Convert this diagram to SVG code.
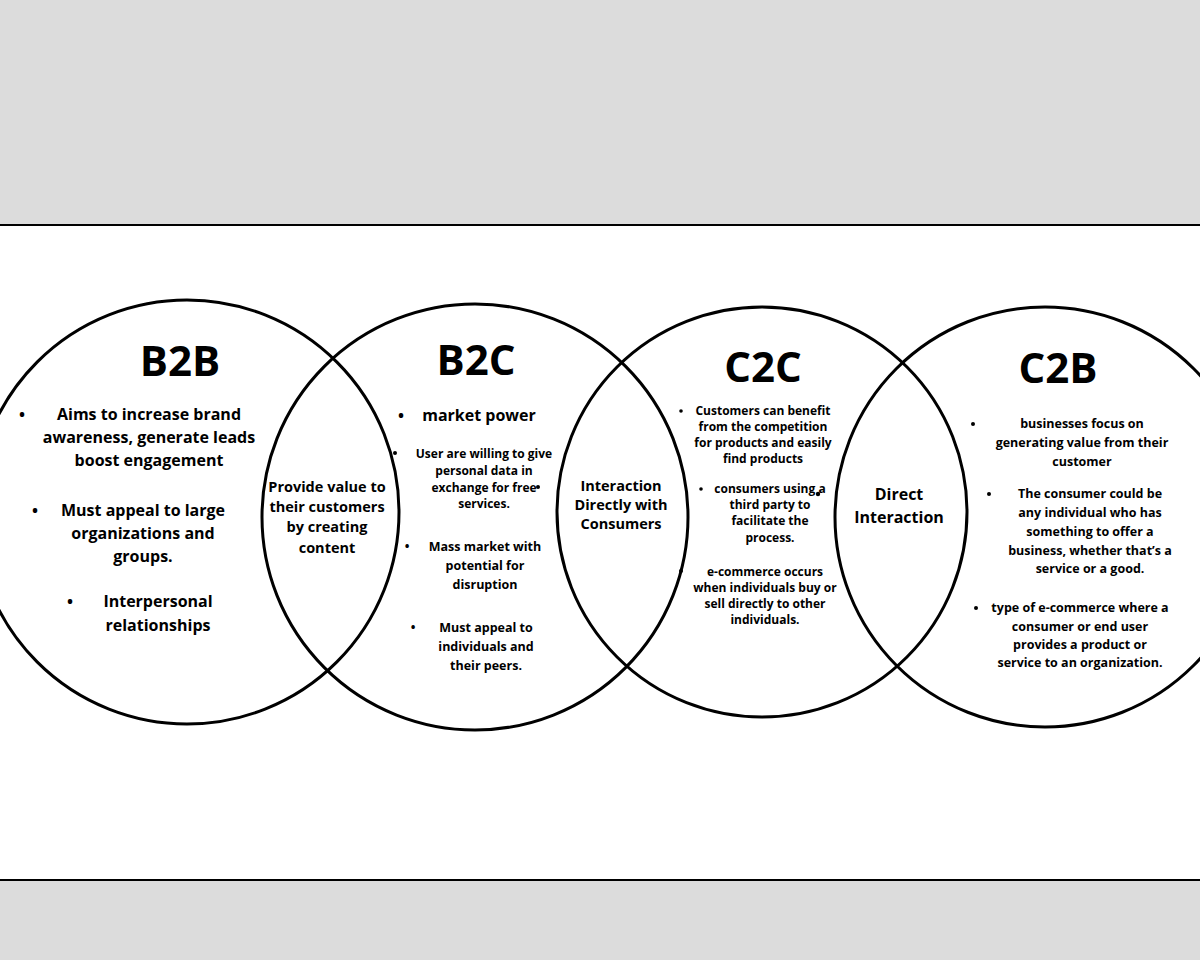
<svg xmlns="http://www.w3.org/2000/svg" width="1200" height="960" viewBox="0 0 1200 960">
<style>
.c{fill:none;stroke:#000;stroke-width:3}
text{font-family:"Open Sans","Liberation Sans",sans-serif;font-weight:700;fill:#000;text-anchor:middle}
.h{font-size:42px}
.m{font-size:16px}
.s{font-size:12px}
.x{font-size:14.5px}
.b{font-size:12.5px}
</style>
<rect x="0" y="0" width="1200" height="960" fill="#dcdcdc"/>
<rect x="0" y="225" width="1200" height="655" fill="#fff"/>
<line x1="0" y1="225" x2="1200" y2="225" stroke="#000" stroke-width="2"/>
<line x1="0" y1="880" x2="1200" y2="880" stroke="#000" stroke-width="2"/>
<g id="circles">
<circle class="c" cx="187" cy="512" r="212"/>
<circle class="c" cx="475" cy="517" r="213"/>
<circle class="c" cx="762" cy="512" r="205"/>
<circle class="c" cx="1045" cy="517" r="210"/>
</g>
<g id="b2b">
<text class="h" x="180" y="376">B2B</text>
<text class="m" x="22" y="420">•</text>
<text class="m" x="149" y="420">Aims to increase brand</text>
<text class="m" x="149" y="443">awareness, generate leads</text>
<text class="m" x="149" y="466">boost engagement</text>
<text class="m" x="35" y="516">•</text>
<text class="m" x="143" y="516">Must appeal to large</text>
<text class="m" x="143" y="539">organizations and</text>
<text class="m" x="143" y="562">groups.</text>
<text class="m" x="70" y="607">•</text>
<text class="m" x="158" y="607">Interpersonal</text>
<text class="m" x="158" y="631">relationships</text>
</g>
<g id="b2b-b2c">
<text class="x" x="327" y="492">Provide value to</text>
<text class="x" x="327" y="512">their customers</text>
<text class="x" x="327" y="532">by creating</text>
<text class="x" x="327" y="553">content</text>
</g>
<g id="b2c">
<text class="h" x="476" y="375">B2C</text>
<text class="m" x="401" y="421">•</text>
<text class="m" x="479" y="421">market power</text>
<text class="s" x="484" y="458">User are willing to give</text>
<text class="s" x="484" y="475">personal data in</text>
<text class="s" x="484" y="492">exchange for free</text>
<text class="s" x="484" y="508">services.</text>
<circle cx="538" cy="487" r="2"/><circle cx="395" cy="453" r="2"/>
<text class="b" x="407" y="551">•</text>
<text class="b" x="485" y="551">Mass market with</text>
<text class="b" x="485" y="570">potential for</text>
<text class="b" x="485" y="589">disruption</text>
<text class="b" x="413" y="632">•</text>
<text class="b" x="486" y="632">Must appeal to</text>
<text class="b" x="486" y="651">individuals and</text>
<text class="b" x="486" y="670">their peers.</text>
</g>
<g id="b2c-c2c">
<text class="x" x="621" y="491">Interaction</text>
<text class="x" x="621" y="510">Directly with</text>
<text class="x" x="621" y="529">Consumers</text>
</g>
<g id="c2c">
<text class="h" x="763" y="382">C2C</text>
<circle cx="681" cy="411" r="1.8"/>
<text class="s" x="763" y="415">Customers can benefit</text>
<text class="s" x="763" y="431">from the competition</text>
<text class="s" x="763" y="447">for products and easily</text>
<text class="s" x="763" y="463">find products</text>
<circle cx="701" cy="489" r="1.8"/>
<text class="s" x="770" y="493">consumers using a</text>
<circle cx="818" cy="494" r="2.2"/>
<text class="s" x="770" y="509">third party to</text>
<text class="s" x="770" y="525">facilitate the</text>
<text class="s" x="770" y="542">process.</text>
<circle cx="681" cy="571" r="2"/>
<text class="s" x="765" y="576">e-commerce occurs</text>
<text class="s" x="765" y="592">when individuals buy or</text>
<text class="s" x="765" y="608">sell directly to other</text>
<text class="s" x="765" y="624">individuals.</text>
</g>
<g id="c2c-c2b">
<text class="m" x="899" y="500">Direct</text>
<text class="m" x="899" y="523">Interaction</text>
</g>
<g id="c2b">
<text class="h" x="1058" y="383">C2B</text>
<circle cx="973" cy="424" r="2"/>
<text class="b" x="1082" y="428">businesses focus on</text>
<text class="b" x="1082" y="447">generating value from their</text>
<text class="b" x="1082" y="466">customer</text>
<circle cx="989" cy="494" r="2"/>
<text class="b" x="1090" y="498">The consumer could be</text>
<text class="b" x="1090" y="517">any individual who has</text>
<text class="b" x="1090" y="536">something to offer a</text>
<text class="b" x="1090" y="555">business, whether that’s a</text>
<text class="b" x="1090" y="573">service or a good.</text>
<circle cx="976" cy="608" r="2"/>
<text class="b" x="1080" y="612">type of e-commerce where a</text>
<text class="b" x="1080" y="631">consumer or end user</text>
<text class="b" x="1080" y="649">provides a product or</text>
<text class="b" x="1080" y="667">service to an organization.</text>
</g>
</svg>
